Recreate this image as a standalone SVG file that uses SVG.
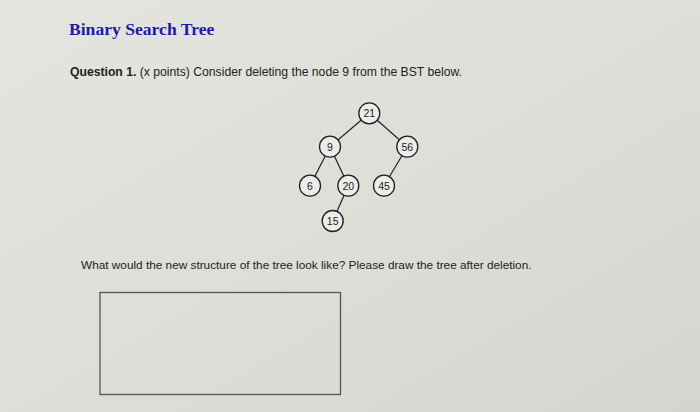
<svg xmlns="http://www.w3.org/2000/svg" width="700" height="412" viewBox="0 0 700 412">
<defs>
<linearGradient id="bg" x1="0" y1="0" x2="1" y2="1">
<stop offset="0" stop-color="#e4e5df"/>
<stop offset="0.6" stop-color="#dcddd7"/>
<stop offset="1" stop-color="#d4d5cf"/>
</linearGradient>
</defs>
<style>
.node circle{fill:#ecedea;stroke:#1e1e1e;stroke-width:1.3}
.node text{font-family:"Liberation Sans",Arial,sans-serif;font-size:10.5px;fill:#222;text-anchor:middle;dominant-baseline:central}
.edge{stroke:#222;stroke-width:1.2;fill:none}
.body{font-family:"Liberation Sans",Arial,sans-serif;fill:#222}
</style>
<rect width="700" height="412" fill="url(#bg)"/>
<text x="69" y="35" font-family="'Liberation Serif','Times New Roman',serif" font-weight="bold" font-size="17.6" fill="#1c1ca6">Binary Search Tree</text>
<text class="body" x="70" y="76" font-size="12.2"><tspan font-weight="bold">Question 1.</tspan> (x points) Consider deleting the node 9 from the BST below.</text>
<g id="connectors">
<line class="edge" x1="369.3" y1="113.3" x2="330" y2="146.7"/>
<line class="edge" x1="369.3" y1="113.3" x2="407.3" y2="146.7"/>
<line class="edge" x1="330" y1="146.7" x2="310" y2="185.7"/>
<line class="edge" x1="330" y1="146.7" x2="348.3" y2="185.7"/>
<line class="edge" x1="407.3" y1="146.7" x2="384" y2="185.7"/>
<line class="edge" x1="348.3" y1="185.7" x2="332.7" y2="221"/>
</g>
<g id="n21" class="node"><circle cx="369.3" cy="113.3" r="10.5"/><text x="369.3" y="113.3">21</text></g>
<g id="n9" class="node"><circle cx="330" cy="146.7" r="10.5"/><text x="330" y="146.7">9</text></g>
<g id="n56" class="node"><circle cx="407.3" cy="146.7" r="10.5"/><text x="407.3" y="146.7">56</text></g>
<g id="n6" class="node"><circle cx="310" cy="185.7" r="10.5"/><text x="310" y="185.7">6</text></g>
<g id="n20" class="node"><circle cx="348.3" cy="185.7" r="10.5"/><text x="348.3" y="185.7">20</text></g>
<g id="n45" class="node"><circle cx="384" cy="185.7" r="10.5"/><text x="384" y="185.7">45</text></g>
<g id="n15" class="node"><circle cx="332.7" cy="221" r="10.5"/><text x="332.7" y="221">15</text></g>
<text class="body" x="81" y="269" font-size="11.8">What would the new structure of the tree look like? Please draw the tree after deletion.</text>
<rect x="100" y="292.5" width="240.5" height="102" fill="none" stroke="#555" stroke-width="1.3"/>
</svg>
